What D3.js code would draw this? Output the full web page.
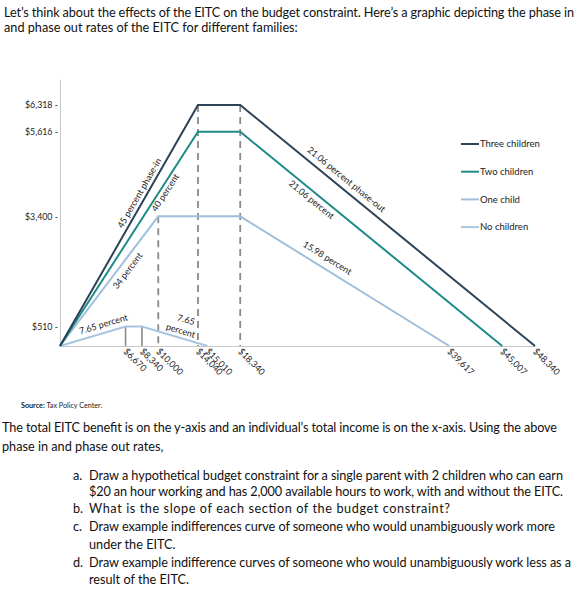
<!DOCTYPE html>
<html><head><meta charset="utf-8">
<script src="https://cdn.jsdelivr.net/npm/d3@7"></script>
<style>body{margin:0;background:#fff}</style>
</head><body>
<svg id="c" width="587" height="601"></svg>
<script>
// ---------- data ----------
const seriesNames = ["Three children", "Two children", "One child", "No children"];
const threeChildrenIncome = [0, 14040, 18340, 48340];
const threeChildrenCredit = [0, 6318, 6318, 0];
const twoChildrenIncome = [0, 14040, 18340, 45007];
const twoChildrenCredit = [0, 5616, 5616, 0];
const oneChildIncome = [0, 10000, 18340, 39617];
const oneChildCredit = [0, 3400, 3400, 0];
const noChildrenIncome = [0, 6670, 8340, 15010];
const noChildrenCredit = [0, 510, 510, 0];
const yTickValues = [510, 3400, 5616, 6318];
const xTickValues = [6670, 8340, 10000, 14040, 15010, 18340, 39617, 45007, 48340];
const rateLabels = ["45 percent phase-in", "40 percent", "34 percent", "7.65 percent",
                    "21.06 percent phase-out", "21.06 percent", "15.98 percent", "7.65|percent"];
const introLines = [
  "Let\u2019s think about the effects of the EITC on the budget constraint. Here\u2019s a graphic depicting the phase in",
  "and phase out rates of the EITC for different families:"
];
const bodyLines = [
  "The total EITC benefit is on the y-axis and an individual\u2019s total income is on the x-axis. Using the above",
  "phase in and phase out rates,"
];
const questionLetters = ["a.", "b.", "c.", "d."];
const questionLines = [
  ["Draw a hypothetical budget constraint for a single parent with 2 children who can earn",
   "$20 an hour working and has 2,000 available hours to work, with and without the EITC."],
  ["What is the slope of each section of the budget constraint?"],
  ["Draw example indifferences curve of someone who would unambiguously work more",
   "under the EITC."],
  ["Draw example indifference curves of someone who would unambiguously work less as a",
   "result of the EITC."]
];

// ---------- setup ----------
const svg = d3.select("#c");
const colors = ["#2c4257", "#1d8b87", "#9fbfdb", "#a8c5df"];
const series = [
  d3.zip(threeChildrenIncome, threeChildrenCredit),
  d3.zip(twoChildrenIncome, twoChildrenCredit),
  d3.zip(oneChildIncome, oneChildCredit),
  d3.zip(noChildrenIncome, noChildrenCredit)
];

const x = d3.scaleLinear().domain([0, 48340]).range([60, 535]);
const y = d3.scaleLinear().domain([0, 7000]).range([346, 79]);
const fmt = d3.format(",");
const chartFont = "Lato, 'Noto Sans', sans-serif";
const bodyFont = "Lato, 'Open Sans', sans-serif";

// ---------- intro / body text ----------
const bodyItems = [];
function textLine(str, tx, ty, width) {
  const t = svg.append("text").attr("x", tx).attr("y", ty)
    .attr("font-family", bodyFont).attr("font-size", 14).attr("fill", "#111").text(str);
  bodyItems.push({t, width});
  return t;
}
textLine(introLines[0], 4, 17, 570);
textLine(introLines[1], 4, 32);

textLine(bodyLines[0], 2, 432, 555);
textLine(bodyLines[1], 2, 451);

const qBaselines = [[480, 496], [513], [531, 549], [567, 584]];
const qWidths = [[474, 474], [361], [466, null], [482, null]];
questionLetters.forEach((L, i) => {
  textLine(L, 73, qBaselines[i][0]);
  questionLines[i].forEach((s, j) => textLine(s, 89, qBaselines[i][j], qWidths[i][j]));
});
// pick one common size so natural widths fit, then fine-tune spacing
const ratios = bodyItems.filter(b => b.width).map(b => b.width / b.t.node().getComputedTextLength());
const bodySize = 14 * d3.mean(ratios);
bodyItems.forEach(b => {
  b.t.attr("font-size", bodySize);
  if (b.width) b.t.attr("textLength", b.width).attr("lengthAdjust", "spacing");
});

// source
const src = svg.append("text").attr("x", 21).attr("y", 408)
  .attr("font-family", chartFont).attr("font-size", 7.2).attr("fill", "#222");
src.append("tspan").attr("font-weight", "bold").text("Source:");
src.append("tspan").text(" Tax Policy Center.");

// ---------- axes ----------
const gy = svg.append("g").attr("transform", `translate(${x(0)},0)`)
  .call(d3.axisLeft(y).tickValues(yTickValues).tickSize(0).tickPadding(2).tickSizeOuter(0)
        .tickFormat(d => "$" + fmt(d) + " -"));
gy.select(".domain").attr("stroke", "#c8c8c8").attr("stroke-width", 1);
gy.selectAll("text").attr("font-family", chartFont).attr("font-size", 8.8).attr("fill", "#222");

const gx = svg.append("g").attr("transform", `translate(0,${y(0)})`)
  .call(d3.axisBottom(x).tickValues(xTickValues).tickSize(0).tickSizeOuter(0)
        .tickFormat(d => "$" + fmt(d)));
gx.select(".domain").attr("stroke", "#c8c8c8").attr("stroke-width", 1);
gx.selectAll("text")
  .attr("font-family", chartFont).attr("font-size", 9).attr("fill", "#222")
  .attr("text-anchor", "start").attr("dy", null).attr("y", 0)
  .attr("transform", "translate(-3,6) rotate(45)");

// ---------- guide lines ----------
const dashedAt = [[10000, 3400], [14040, 6318], [18340, 6318]];
svg.append("g").selectAll("line").data(dashedAt).join("line")
  .attr("x1", d => x(d[0])).attr("x2", d => x(d[0]))
  .attr("y1", d => y(d[1])).attr("y2", y(0))
  .attr("stroke", "#8a8a8a").attr("stroke-width", 1.8).attr("stroke-dasharray", "7,5");
const solidAt = [[6670, 510], [8340, 510]];
svg.append("g").selectAll("line").data(solidAt).join("line")
  .attr("x1", d => x(d[0])).attr("x2", d => x(d[0]))
  .attr("y1", d => y(d[1])).attr("y2", y(0))
  .attr("stroke", "#8a8a8a").attr("stroke-width", 1.6);

// ---------- series lines ----------
const line = d3.line().x(d => x(d[0])).y(d => y(d[1]));
svg.append("g").selectAll("path").data(series.slice().reverse()).join("path")
  .attr("d", line).attr("fill", "none")
  .attr("stroke", (d, i) => colors[3 - i]).attr("stroke-width", 2);

// ---------- rate annotations ----------
const annot = [
  {s: 0, seg: 0, t: 0.62, dy: -4},
  {s: 1, seg: 0, t: 0.73, dy: 8.5},
  {s: 2, seg: 0, t: 0.62, dy: 11.5},
  {s: 3, seg: 0, t: 0.70, dy: -5.5},
  {s: 0, seg: 2, t: 0.34, dy: -6.5},
  {s: 1, seg: 2, t: 0.29, dy: 10.5},
  {s: 2, seg: 2, t: 0.39, dy: -7.5},
  {s: 3, seg: 2, t: 0.56, dy: -4}
];
annot.forEach((a, i) => {
  const p0 = series[a.s][a.seg], p1 = series[a.s][a.seg + 1];
  const x0 = x(p0[0]), y0 = y(p0[1]), x1 = x(p1[0]), y1 = y(p1[1]);
  const px = x0 + (x1 - x0) * a.t, py = y0 + (y1 - y0) * a.t;
  const ang = Math.atan2(y1 - y0, x1 - x0) * 180 / Math.PI;
  const parts = rateLabels[i].split("|");
  const g = svg.append("g").attr("transform", `translate(${px},${py}) rotate(${ang})`);
  parts.forEach((s, j) => {
    g.append("text").attr("x", parts.length > 1 && j === 0 ? 2 : 0)
      .attr("y", a.dy - (parts.length - 1 - j) * 12)
      .attr("text-anchor", "middle")
      .attr("font-family", chartFont).attr("font-size", 9).attr("fill", "#222")
      .text(s);
  });
});

// ---------- legend ----------
const legend = svg.append("g").selectAll("g").data(seriesNames).join("g")
  .attr("transform", (d, i) => `translate(461,${144 + i * 27.7})`);
legend.append("line").attr("x1", 0).attr("x2", 18).attr("y1", 0).attr("y2", 0)
  .attr("stroke", (d, i) => colors[i]).attr("stroke-width", 2);
legend.append("text").attr("x", 19).attr("y", 3.3)
  .attr("font-family", chartFont).attr("font-size", 9.5).attr("fill", "#222")
  .text(d => d);
</script>
</body></html>
